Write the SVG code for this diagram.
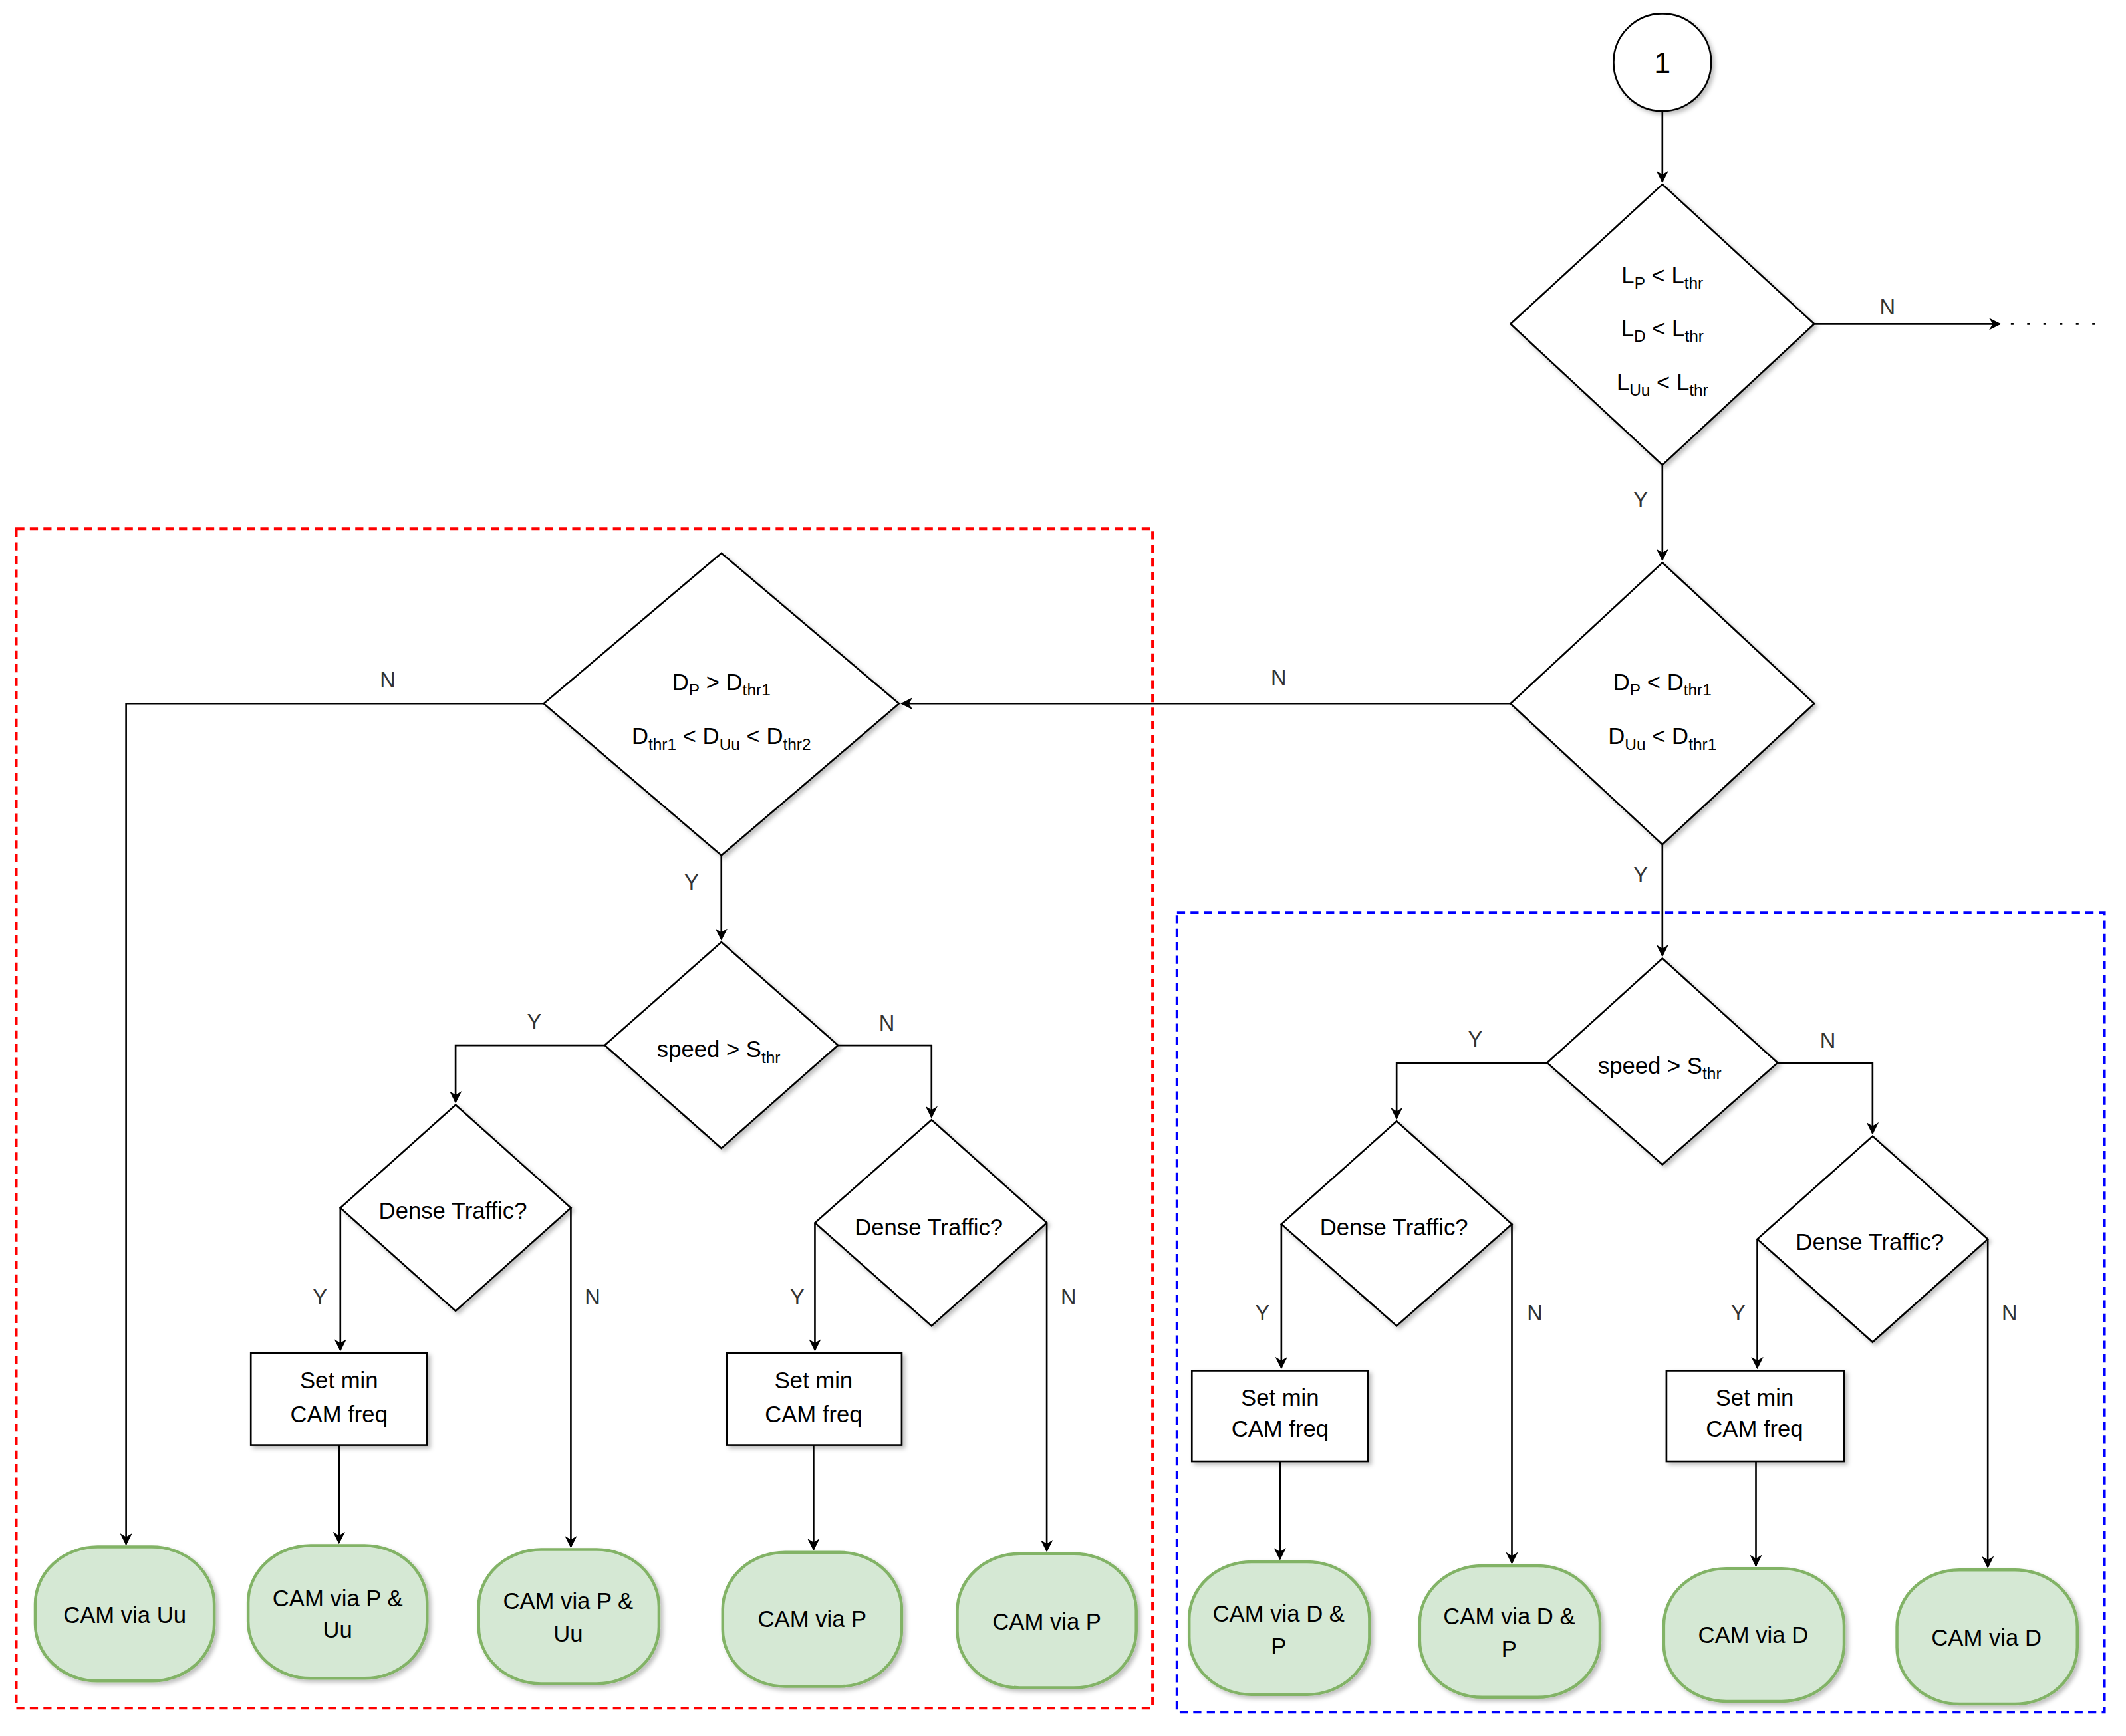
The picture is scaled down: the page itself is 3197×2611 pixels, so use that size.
<svg xmlns="http://www.w3.org/2000/svg" width="3197" height="2611" viewBox="0 0 3197 2611">
<defs>
<marker id="ah" viewBox="0 0 10 10" refX="9" refY="5" markerWidth="9" markerHeight="9" orient="auto" markerUnits="userSpaceOnUse"><path d="M0,0 L10,5 L0,10 L3,5 z" fill="#000"/></marker>
<filter id="sh" x="-10%" y="-10%" width="130%" height="130%"><feDropShadow dx="2" dy="2" stdDeviation="1.5" flood-color="#000" flood-opacity="0.25"/></filter>
</defs>
<style>
text{font-family:"Liberation Sans",Arial,sans-serif;font-size:17px;fill:#000;text-anchor:middle}
.lb{font-size:16px;fill:#333}
.s{font-size:12px}
.n{fill:#fff;stroke:#000;stroke-width:1.3;filter:url(#sh)}
.t{fill:#d5e8d4;stroke:#82b366;stroke-width:2.2;filter:url(#sh)}
.c{fill:none;stroke:#000;stroke-width:1.3}
.a{marker-end:url(#ah)}
</style>
<rect width="3197" height="2611" fill="#fff"/>
<g transform="scale(2.039)">
<rect x="12" y="390" width="838" height="870" fill="none" stroke="#f00" stroke-width="2" stroke-dasharray="6,4"/>
<rect x="868" y="673" width="684" height="590" fill="none" stroke="#00f" stroke-width="2" stroke-dasharray="6,4"/>
<g id="connectors">
<path class="c a" d="M1226,82 V134"/>
<path class="c a" d="M1338,239 H1475"/>
<path class="c" d="M1483,239 H1545" stroke-dasharray="2,10" stroke-width="2"/>
<path class="c a" d="M1226,343 V413"/>
<path class="c a" d="M1114,519 H665"/>
<path class="c a" d="M1226,623 V705"/>
<path class="c a" d="M401,519 H93 V1139"/>
<path class="c a" d="M532,631 V693"/>
<path class="c a" d="M446,771 H336 V813"/>
<path class="c a" d="M618,771 H687 V824"/>
<path class="c a" d="M251,891 V996"/>
<path class="c a" d="M421,891 V1141"/>
<path class="c a" d="M250,1066 V1138"/>
<path class="c a" d="M601,902 V996"/>
<path class="c a" d="M772,902 V1144"/>
<path class="c a" d="M600,1066 V1143"/>
<path class="c a" d="M1141,784 H1030 V825"/>
<path class="c a" d="M1311,784 H1381 V836"/>
<path class="c a" d="M945,903 V1009"/>
<path class="c a" d="M1115,903 V1153"/>
<path class="c a" d="M944,1078 V1150"/>
<path class="c a" d="M1296,914 V1009"/>
<path class="c a" d="M1466,914 V1156"/>
<path class="c a" d="M1295,1078 V1155"/>
<text class="lb" x="1392" y="232">N</text>
<text class="lb" x="1210" y="374">Y</text>
<text class="lb" x="943" y="505">N</text>
<text class="lb" x="1210" y="651">Y</text>
<text class="lb" x="286" y="507">N</text>
<text class="lb" x="510" y="656">Y</text>
<text class="lb" x="394" y="759">Y</text>
<text class="lb" x="654" y="760">N</text>
<text class="lb" x="236" y="962">Y</text>
<text class="lb" x="437" y="962">N</text>
<text class="lb" x="588" y="962">Y</text>
<text class="lb" x="788" y="962">N</text>
<text class="lb" x="1088" y="772">Y</text>
<text class="lb" x="1348" y="773">N</text>
<text class="lb" x="931" y="974">Y</text>
<text class="lb" x="1132" y="974">N</text>
<text class="lb" x="1282" y="974">Y</text>
<text class="lb" x="1482" y="974">N</text>
</g>
<g id="start"><circle class="n" cx="1226" cy="46" r="36"/><text x="1226" y="54" style="font-size:22px">1</text></g>
<g id="d1"><polygon class="n" points="1226,136 1338,239 1226,343 1114,239"/>
<text x="1226" y="209">L<tspan class="s" dy="4">P</tspan><tspan dy="-4"> &lt; L</tspan><tspan class="s" dy="4">thr</tspan></text>
<text x="1226" y="248">L<tspan class="s" dy="4">D</tspan><tspan dy="-4"> &lt; L</tspan><tspan class="s" dy="4">thr</tspan></text>
<text x="1226" y="288">L<tspan class="s" dy="4">Uu</tspan><tspan dy="-4"> &lt; L</tspan><tspan class="s" dy="4">thr</tspan></text></g>
<g id="d2"><polygon class="n" points="1226,415 1338,519 1226,623 1114,519"/>
<text x="1226" y="509">D<tspan class="s" dy="4">P</tspan><tspan dy="-4"> &lt; D</tspan><tspan class="s" dy="4">thr1</tspan></text>
<text x="1226" y="549">D<tspan class="s" dy="4">Uu</tspan><tspan dy="-4"> &lt; D</tspan><tspan class="s" dy="4">thr1</tspan></text></g>
<g id="d3"><polygon class="n" points="532,408 663,519 532,631 401,519"/>
<text x="532" y="509">D<tspan class="s" dy="4">P</tspan><tspan dy="-4"> &gt; D</tspan><tspan class="s" dy="4">thr1</tspan></text>
<text x="532" y="549">D<tspan class="s" dy="4">thr1</tspan><tspan dy="-4"> &lt; D</tspan><tspan class="s" dy="4">Uu</tspan><tspan dy="-4"> &lt; D</tspan><tspan class="s" dy="4">thr2</tspan></text></g>
<g id="sL"><polygon class="n" points="532,695 618,771 532,847 446,771"/><text x="530" y="780">speed &gt; S<tspan class="s" dy="4">thr</tspan></text></g>
<g id="sR"><polygon class="n" points="1226,707 1311,784 1226,859 1141,784"/><text x="1224" y="792">speed &gt; S<tspan class="s" dy="4">thr</tspan></text></g>
<g id="dL1"><polygon class="n" points="336,815 421,891 336,967 251,891"/><text x="334" y="899">Dense Traffic?</text></g>
<g id="dL2"><polygon class="n" points="687,826 772,902 687,978 601,902"/><text x="685" y="911">Dense Traffic?</text></g>
<g id="dR1"><polygon class="n" points="1030,827 1115,903 1030,978 945,903"/><text x="1028" y="911">Dense Traffic?</text></g>
<g id="dR2"><polygon class="n" points="1381,838 1466,914 1381,990 1296,914"/><text x="1379" y="922">Dense Traffic?</text></g>
<g id="bL1"><rect class="n" x="185" y="998" width="130" height="68"/><text x="250" y="1024">Set min</text><text x="250" y="1049">CAM freq</text></g>
<g id="bL2"><rect class="n" x="536" y="998" width="129" height="68"/><text x="600" y="1024">Set min</text><text x="600" y="1049">CAM freq</text></g>
<g id="bR1"><rect class="n" x="879" y="1011" width="130" height="67"/><text x="944" y="1037">Set min</text><text x="944" y="1060">CAM freq</text></g>
<g id="bR2"><rect class="n" x="1229" y="1011" width="131" height="67"/><text x="1294" y="1037">Set min</text><text x="1294" y="1060">CAM freq</text></g>
<g id="t1"><rect class="t" x="26" y="1141" width="132" height="99" rx="46" ry="42"/><text x="92" y="1197">CAM via Uu</text></g>
<g id="t2"><rect class="t" x="183" y="1140" width="132" height="98" rx="46" ry="42"/><text x="249" y="1185">CAM via P &amp;</text><text x="249" y="1208">Uu</text></g>
<g id="t3"><rect class="t" x="353" y="1143" width="133" height="99" rx="46" ry="42"/><text x="419" y="1187">CAM via P &amp;</text><text x="419" y="1211">Uu</text></g>
<g id="t4"><rect class="t" x="533" y="1145" width="132" height="99" rx="46" ry="42"/><text x="599" y="1200">CAM via P</text></g>
<g id="t5"><rect class="t" x="706" y="1146" width="132" height="99" rx="46" ry="42"/><text x="772" y="1202">CAM via P</text></g>
<g id="t6"><rect class="t" x="877" y="1152" width="133" height="98" rx="46" ry="42"/><text x="943" y="1196">CAM via D &amp;</text><text x="943" y="1220">P</text></g>
<g id="t7"><rect class="t" x="1047" y="1155" width="133" height="97" rx="46" ry="42"/><text x="1113" y="1198">CAM via D &amp;</text><text x="1113" y="1222">P</text></g>
<g id="t8"><rect class="t" x="1227" y="1157" width="133" height="98" rx="46" ry="42"/><text x="1293" y="1212">CAM via D</text></g>
<g id="t9"><rect class="t" x="1399" y="1158" width="133" height="99" rx="46" ry="42"/><text x="1465" y="1214">CAM via D</text></g>
</g>
</svg>
